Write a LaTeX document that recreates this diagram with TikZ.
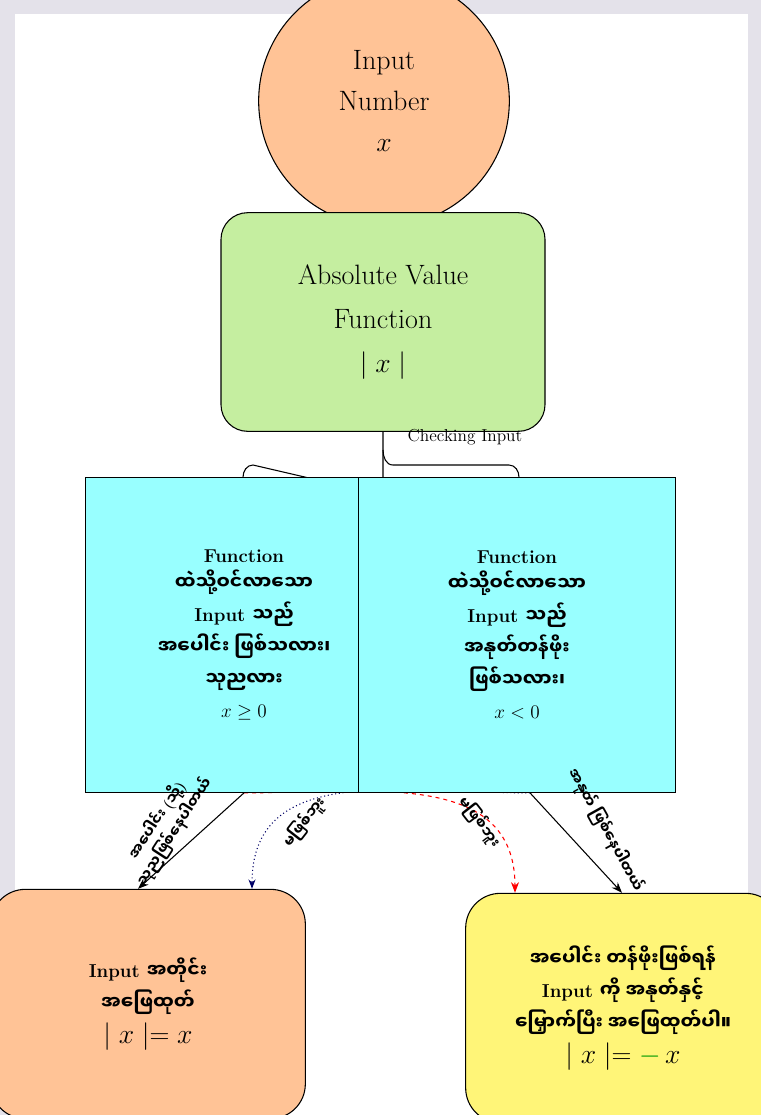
\documentclass[tikz,border=0pt]{standalone}
\usepackage{fontspec}
\newfontfamily\mm[Script=Myanmar]{Noto Sans Myanmar UI}
\usetikzlibrary{arrows.meta}
\pgfdeclarelayer{backlayer}
\pgfdeclarelayer{edgelayer}
\pgfdeclarelayer{nodelayer}
\pgfsetlayers{backlayer,edgelayer,nodelayer,main}
\definecolor{peach}{RGB}{255,195,150}
\definecolor{leaf}{RGB}{197,238,160}
\definecolor{aqua}{RGB}{152,255,255}
\definecolor{lemon}{RGB}{255,245,120}
\definecolor{frame}{RGB}{228,226,234}
\tikzstyle{none}=[inner sep=0pt]
\tikzstyle{start}=[circle,fill=peach,draw=black,thick,minimum size=188,align=center,font=\fontsize{21}{31}\selectfont]
\tikzstyle{func}=[rectangle,rounded corners=20,fill=leaf,draw=black,thick,minimum width=243,minimum height=164,align=center,font=\fontsize{21}{33}\selectfont]
\tikzstyle{test}=[rectangle,fill=aqua,draw=black,thick,minimum width=238,minimum height=236,align=center,font=\fontsize{14}{20}\selectfont\bfseries]
\tikzstyle{result}=[rectangle,rounded corners=26,draw=black,thick,minimum width=236,minimum height=172,align=center,font=\fontsize{14}{20}\selectfont\bfseries]
\tikzstyle{branch}=[-{Stealth[length=8pt]},draw=black,thick]
\tikzstyle{edgelabel}=[font=\fontsize{11}{14}\selectfont\mm\bfseries,align=center]

\begin{document}
\begin{tikzpicture}[x=0.75pt,y=-0.75pt]
	\useasboundingbox (0,0) rectangle (761,1115);
	\begin{pgfonlayer}{backlayer}
		\fill [frame] (0,0) rectangle (761,1115);
		\fill [white] (15,14) rectangle (748,1115);
	\end{pgfonlayer}
	\begin{pgfonlayer}{nodelayer}
		\node [style=start] (0) at (384,101) {Input\\Number\\$x$};
		\node [style=func] (1) at (383,322) {Absolute Value\\Function\\$\mid x\mid$};
		\node [style=test] (2) at (244,635) {Function\\{\mm ထဲသို့ဝင်လာသော}\\[4pt]Input {\mm သည်}\\[4pt]{\mm အပေါင်း ဖြစ်သလား၊}\\[4pt]{\mm သုညလား}\\[4pt]$x\geq 0$};
		\node [style=test] (3) at (517,635) {Function\\{\mm ထဲသို့ဝင်လာသော}\\[4pt]Input {\mm သည်}\\[4pt]{\mm အနုတ်တန်ဖိုး}\\[4pt]{\mm ဖြစ်သလား၊}\\[4pt]$x<0$};
		\node [style=result,fill=peach] (4) at (148,1004) {Input {\mm အတိုင်း}\\[4pt]{\mm အဖြေထုတ်}\\[6pt]{\fontsize{20}{24}\selectfont$\mid x\mid= x$}};
		\node [style=result,fill=lemon] (5) at (623,1008) {{\mm အပေါင်း တန်ဖိုးဖြစ်ရန်}\\[4pt]Input {\mm ကို အနုတ်နှင့်}\\[4pt]{\mm မြှောက်ပြီး အဖြေထုတ်ပါ။}\\[6pt]{\fontsize{20}{24}\selectfont$\mid x\mid= {\color{green!60!black}-}\, x$}};
		\node [style=none,font=\fontsize{13}{16}\selectfont] (6) at (465,437) {Checking Input};
		\coordinate (7) at (383,465);
		\node [style=edgelabel,rotate=57] (8) at (166,826) {အပေါင်း {\rmfamily(}သို့{\rmfamily)}\\သုညဖြစ်နေပါတယ်};
		\node [style=edgelabel,rotate=-61] (9) at (606,830) {အနုတ် ဖြစ်နေပါတယ်};
		\node [style=edgelabel,rotate=52] (10) at (305,822) {မဖြစ်ဘူး};
		\node [style=edgelabel,rotate=-52] (11) at (480,822) {မဖြစ်ဘူး};
	\end{pgfonlayer}
	\begin{pgfonlayer}{edgelayer}
		\draw [style=branch] (0) to (1);
		\draw [thick] (1.south) -- ++(0,46) to [out=-90,in=0] ++(-10,15) -- (253,465) to [out=180,in=90] (2.north -| 243,0);
		\draw [thick] (7) ++(0,-15) to [out=-90,in=180] ++(10,15) -- (509,465) to [out=0,in=90] (3.north -| 519,0);
		\draw [style=branch] (2.south) to (4.north -| 138,0);
		\draw [style=branch] (3.south -| 530,0) to (5.north -| 622,0);
		\draw [-{Stealth[length=8pt]},red,dashed,thick] (2.south) to [out=0,in=90,looseness=1.1] (5.north -| 515,0);
		\draw [-{Stealth[length=7pt]},blue!40!black,dotted,thick] (3.south -| 530,0) to [out=180,in=90,looseness=1.1] (4.north -| 252,0);
	\end{pgfonlayer}
\end{tikzpicture}
\end{document}
